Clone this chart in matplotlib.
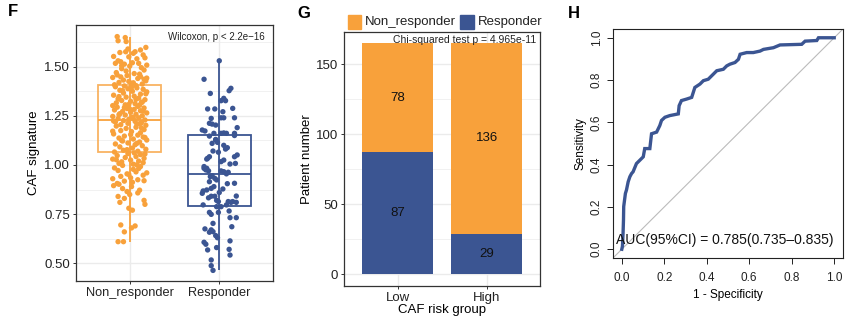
import matplotlib
matplotlib.use("Agg")
import matplotlib.pyplot as plt
from matplotlib.patches import Rectangle
import numpy as np

plt.rcParams['font.family'] = ['Liberation Sans', 'DejaVu Sans']

ORANGE = '#F8A13B'
BLUE = '#3B5592'

# ---------------- Panel F data ----------------
groups = ['Non_responder', 'Responder']
box_q1 = [1.065, 0.79]
box_med = [1.23, 0.955]
box_q3 = [1.405, 1.155]
box_lo = [0.61, 0.465]
box_hi = [1.65, 1.53]

nonresp_y = [1.653, 1.632, 1.648, 1.628, 1.598,
             1.585, 1.576, 1.576, 1.568, 1.552, 1.550, 1.525, 1.517, 1.513, 1.517, 1.508, 1.503, 1.560, 1.540, 1.530, 1.505, 1.590, 1.545, 1.520, 1.572,
             1.483, 1.490, 1.470, 1.465, 1.455, 1.450, 1.445, 1.440, 1.432, 1.428, 1.420, 1.415, 1.412, 1.408, 1.404, 1.478, 1.462, 1.448, 1.436, 1.425, 1.418, 1.495, 1.458, 1.442, 1.402,
             1.398, 1.392, 1.388, 1.385, 1.380, 1.375, 1.372, 1.366, 1.360, 1.355, 1.350, 1.345, 1.340, 1.336, 1.332, 1.328, 1.324, 1.320, 1.316, 1.312, 1.308, 1.304, 1.302, 1.395, 1.378, 1.362, 1.348, 1.334, 1.318, 1.306,
             1.298, 1.294, 1.290, 1.287, 1.283, 1.280, 1.276, 1.272, 1.268, 1.265, 1.261, 1.258, 1.254, 1.250, 1.247, 1.243, 1.240, 1.236, 1.232, 1.229, 1.226, 1.222, 1.219, 1.215, 1.212, 1.208, 1.205, 1.202, 1.292, 1.274, 1.256, 1.238, 1.224, 1.210, 1.285,
             1.198, 1.192, 1.186, 1.180, 1.175, 1.170, 1.164, 1.158, 1.152, 1.147, 1.142, 1.137, 1.132, 1.127, 1.122, 1.117, 1.112, 1.107, 1.103, 1.189, 1.172, 1.155, 1.140, 1.125, 1.110,
             1.098, 1.092, 1.086, 1.080, 1.075, 1.070, 1.066, 1.062, 1.058, 1.053, 1.048, 1.043, 1.038, 1.034, 1.030, 1.025, 1.020, 1.016, 1.012, 1.008, 1.004, 1.001, 1.078, 1.056, 1.027,
             0.998, 0.992, 0.985, 0.978, 0.972, 0.965, 0.960, 0.955, 0.948, 0.942, 0.935, 0.930, 0.925, 0.918, 0.912, 0.906, 0.902, 0.982, 0.952, 0.920,
             0.895, 0.890, 0.880, 0.872, 0.865, 0.858, 0.850, 0.840, 0.830, 0.820, 0.810, 0.800,
             0.780, 0.770, 0.695, 0.660, 0.680, 0.690, 0.610, 0.610]
nonresp_dx = [-0.14, -0.13, -0.05, -0.04, 0.18,
              0.12, 0.06, -0.045, 0.04, -0.18, -0.01, -0.10, -0.16, -0.06, 0.10, 0.19, 0.00, 0.15, 0.08, -0.13, -0.09, -0.02, 0.17, 0.03, -0.11,
              0.16, -0.09, -0.15, 0.05, -0.03, 0.12, -0.19, 0.09, -0.07, 0.18, -0.12, 0.02, 0.14, -0.17, 0.07, -0.04, 0.11, -0.10, 0.16, -0.01, 0.04, 0.13, -0.14, 0.19, -0.06,
              -0.16, 0.08, -0.02, 0.15, -0.11, 0.03, 0.19, -0.07, 0.12, -0.18, 0.05, -0.04, 0.10, -0.13, 0.17, -0.09, 0.01, 0.14, -0.15, 0.06, -0.01, 0.11, -0.19, 0.02, -0.08, 0.18, -0.12, 0.07, 0.13, -0.05,
              0.09, -0.14, 0.16, -0.03, 0.05, -0.17, 0.12, -0.08, 0.01, 0.19, -0.11, 0.07, -0.05, 0.14, -0.19, 0.03, 0.10, -0.13, -0.01, 0.17, -0.07, 0.06, -0.16, 0.13, -0.02, 0.08, -0.10, 0.18, -0.06, 0.15, -0.12, 0.04, -0.18, 0.11, 0.00,
              -0.15, 0.07, -0.04, 0.16, -0.10, 0.02, 0.12, -0.18, 0.09, -0.06, 0.15, -0.12, 0.04, 0.19, -0.08, 0.11, -0.02, -0.16, 0.06, 0.13, -0.19, 0.01, 0.17, -0.09, 0.08,
              0.14, -0.11, 0.03, 0.18, -0.07, 0.09, -0.17, 0.05, -0.02, 0.12, -0.14, 0.07, -0.05, 0.16, -0.19, 0.01, 0.10, -0.09, 0.15, -0.12, 0.04, 0.08, -0.03, 0.17, -0.15,
              -0.08, 0.12, -0.17, 0.04, -0.13, 0.07, 0.19, -0.03, 0.15, -0.10, 0.01, -0.19, 0.09, -0.06, 0.03, -0.14, -0.12, 0.10, -0.01, 0.16,
              -0.18, 0.02, -0.08, 0.11, -0.03, 0.09, 0.00, -0.13, -0.06, 0.16, -0.11, 0.17,
              -0.01, 0.03, -0.10, -0.06, 0.02, 0.06, -0.13, -0.07]

resp_y = [1.53, 1.436, 1.39, 1.378, 1.364, 1.327, 1.339, 1.327, 1.285, 1.285, 1.271, 1.288,
          1.237, 1.24, 1.24, 1.24, 1.212, 1.208, 1.203, 1.178, 1.173, 1.19, 1.161, 1.147, 1.161,
          1.161, 1.163, 1.161, 1.13, 1.127, 1.115, 1.15, 1.11, 1.10, 1.088, 1.081, 1.071,
          1.051, 1.042, 1.042, 1.034, 1.03, 1.025, 1.017, 1.008, 0.992, 0.983, 0.975, 0.983, 0.97,
          0.97, 0.966, 0.963, 0.941, 0.932, 0.915, 0.924, 0.89, 0.881, 0.873, 0.868, 0.856, 0.878,
          0.907, 0.842, 0.841, 0.833, 0.841, 0.82, 0.814, 0.814, 0.81, 0.814, 0.81, 0.797, 0.788,
          0.788, 0.797, 0.759, 0.749, 0.759, 0.766, 0.732, 0.732, 0.703, 0.675, 0.67, 0.661, 0.658,
          0.686, 0.641, 0.63, 0.607, 0.597, 0.614, 0.568, 0.58, 0.571, 0.542, 0.517, 0.488, 0.464,
          1.005, 0.955, 0.905, 1.065, 0.86, 0.945]
resp_dx = [0.0, -0.17, 0.13, 0.11, -0.10, 0.02, 0.05, 0.07, -0.13, -0.05, 0.04, 0.15,
           -0.09, 0.02, 0.05, 0.17, -0.11, -0.08, -0.04, -0.19, -0.16, 0.20, 0.17, -0.11, -0.06,
           0.02, 0.05, 0.08, -0.04, -0.04, -0.02, 0.17, -0.08, 0.05, 0.09, 0.07, -0.07,
           0.20, 0.17, -0.11, -0.13, -0.14, 0.05, 0.02, 0.18, -0.17, -0.14, -0.15, -0.17, -0.12,
           0.02, 0.05, 0.10, -0.10, -0.05, -0.11, -0.03, -0.06, -0.09, -0.14, -0.18, -0.19, 0.04,
           0.17, 0.19, -0.09, -0.12, -0.05, -0.03, -0.01, 0.10, 0.13, 0.15, 0.19, -0.18, -0.03,
           0.02, 0.08, -0.11, -0.09, -0.01, 0.11, 0.12, 0.19, -0.07, -0.16, -0.09, -0.07, -0.11,
           0.14, -0.04, -0.02, -0.17, -0.15, 0.12, -0.13, -0.03, 0.11, 0.12, -0.09, -0.09, -0.07,
           0.12, 0.08, 0.09, -0.01, 0.00, -0.08]

# ---------------- Panel G data ----------------
risk_groups = ['Low', 'High']
responder_n = [87, 29]
nonresponder_n = [78, 136]

# ---------------- Panel H data ----------------
roc_fpr = [0.0, 0.003, 0.006, 0.008, 0.009, 0.017, 0.022, 0.030, 0.038, 0.046, 0.053, 0.069, 0.085,
           0.101, 0.108, 0.132, 0.140, 0.164, 0.179, 0.187, 0.203, 0.226, 0.266, 0.270, 0.281, 0.305,
           0.329, 0.344, 0.368, 0.384, 0.407, 0.431, 0.447, 0.478, 0.494, 0.509, 0.533, 0.549, 0.557,
           0.588, 0.619, 0.651, 0.667, 0.714, 0.745, 0.847, 0.863, 0.918, 0.926, 1.0]
roc_tpr = [0.0, 0.014, 0.077, 0.139, 0.202, 0.264, 0.280, 0.319, 0.343, 0.358, 0.366, 0.405, 0.421,
           0.437, 0.476, 0.476, 0.546, 0.554, 0.585, 0.609, 0.624, 0.632, 0.640, 0.679, 0.703, 0.710,
           0.718, 0.765, 0.781, 0.797, 0.804, 0.828, 0.844, 0.851, 0.867, 0.875, 0.883, 0.898, 0.922,
           0.930, 0.930, 0.937, 0.945, 0.953, 0.966, 0.969, 0.984, 0.987, 1.0, 1.0]
auc_text = 'AUC(95%CI) = 0.785(0.735\u20130.835)'

W, H = 847, 322
fig = plt.figure(figsize=(W / 100, H / 100), dpi=100)

def frac(l, t, r, b):
    return [l / W, (H - b) / H, (r - l) / W, (b - t) / H]

EDGE = '#333333'
GRID = '#EBEBEB'

def gg_style(ax):
    for s in ax.spines.values():
        s.set_color(EDGE)
        s.set_linewidth(0.9)
    ax.tick_params(axis='both', colors=EDGE, length=2.5, width=0.7, pad=1.8,
                   labelsize=9.5, labelcolor='#222222')
    ax.set_axisbelow(True)

# ---------------- Panel F ----------------
axF = fig.add_axes(frac(76, 25, 273, 281))
gg_style(axF)
axF.set_xlim(0.4, 2.6)
axF.set_ylim(0.41, 1.712)
yt = [0.50, 0.75, 1.00, 1.25, 1.50]
axF.set_yticks(yt)
axF.set_yticklabels(['%.2f' % v for v in yt])
for v in yt:
    axF.axhline(v, color=GRID, lw=1.0, zorder=0)
for v in [0.625, 0.875, 1.125, 1.375, 1.625]:
    axF.axhline(v, color=GRID, lw=0.5, zorder=0)
for xpos in [1, 2]:
    axF.axvline(xpos, color=GRID, lw=1.0, zorder=0)
axF.set_xticks([1, 2])
axF.set_xticklabels(groups, fontsize=9.2)
axF.set_ylabel('CAF signature', fontsize=9.5, labelpad=3)
cols = [ORANGE, BLUE]
box_alpha = [0.8, 1.0]
for i in range(2):
    pos = i + 1
    axF.vlines(pos, box_lo[i], box_hi[i], color=cols[i], lw=1.3, zorder=2)
    stats = [dict(med=box_med[i], q1=box_q1[i], q3=box_q3[i], whislo=box_q1[i], whishi=box_q3[i], fliers=[])]
    bp = axF.bxp(stats, positions=[pos], widths=0.7, showcaps=False, showfliers=False,
                 patch_artist=True,
                 boxprops=dict(facecolor='none', edgecolor=cols[i], linewidth=1.3, alpha=box_alpha[i]),
                 medianprops=dict(color=cols[i], linewidth=1.3),
                 whiskerprops=dict(color=cols[i], linewidth=0),
                 manage_ticks=False, zorder=2)
axF.scatter([1 + d for d in nonresp_dx], nonresp_y, s=15, color=ORANGE, edgecolors='none', zorder=3)
axF.scatter([2 + d for d in resp_dx], resp_y, s=15, color=BLUE, edgecolors='none', zorder=3)
axF.text(0.959, 0.953, 'Wilcoxon, p < 2.2e\u221216', transform=axF.transAxes, ha='right', va='center', fontsize=7, color='#222222')

# ---------------- Panel G ----------------
axG = fig.add_axes(frac(344.3, 31.7, 540, 285.7))
gg_style(axG)
xg = [1, 2]
axG.set_xlim(0.4, 2.6)
axG.set_ylim(-8.25, 173.25)
for v in [0, 50, 100, 150]:
    axG.axhline(v, color=GRID, lw=1.0, zorder=0)
for v in [25, 75, 125]:
    axG.axhline(v, color=GRID, lw=0.5, zorder=0)
for v in xg:
    axG.axvline(v, color=GRID, lw=1.0, zorder=0)
axG.bar(xg, responder_n, width=0.8, color=BLUE, zorder=2)
axG.bar(xg, nonresponder_n, bottom=responder_n, width=0.8, color=ORANGE, zorder=2)
for i in range(2):
    axG.text(xg[i], responder_n[i] / 2, str(responder_n[i]), ha='center', va='center', fontsize=9.5, color='#111111', zorder=3)
    axG.text(xg[i], responder_n[i] + nonresponder_n[i] / 2, str(nonresponder_n[i]), ha='center', va='center', fontsize=9.5, color='#111111', zorder=3)
axG.set_yticks([0, 50, 100, 150])
axG.set_xticks(xg)
axG.set_xticklabels(risk_groups, fontsize=9.5)
axG.set_ylabel('Patient number', fontsize=9.5, labelpad=2)
axG.set_xlabel('CAF risk group', fontsize=9.5, labelpad=0)
axG.text(0.983, 0.968, 'Chi-squared test p = 4.965e-11', transform=axG.transAxes, ha='right', va='center', fontsize=7.5, color='#222222', zorder=4)
# legend
fig.patches.append(Rectangle((348.3 / W, (H - 29) / H), 12.7 / W, 14 / H, transform=fig.transFigure, color=ORANGE))
fig.text(364.7 / W, (H - 22) / H, 'Non_responder', ha='left', va='center', fontsize=9.5, color='#222222')
fig.patches.append(Rectangle((460 / W, (H - 29) / H), 14 / W, 14 / H, transform=fig.transFigure, color=BLUE))
fig.text(477.7 / W, (H - 22) / H, 'Responder', ha='left', va='center', fontsize=9.5, color='#222222')

# ---------------- Panel H ----------------
axH = fig.add_axes(frac(613.3, 29.3, 842.7, 257.7))
axH.set_xlim(-0.04, 1.04)
axH.set_ylim(-0.04, 1.04)
for s in axH.spines.values():
    s.set_color('#222222')
    s.set_linewidth(0.8)
ticks = [0.0, 0.2, 0.4, 0.6, 0.8, 1.0]
axH.set_xticks(ticks)
axH.set_yticks(ticks)
axH.set_xticklabels(['%.1f' % t for t in ticks], fontsize=8.5)
axH.set_yticklabels(['%.1f' % t for t in ticks], fontsize=8.5, rotation=90, va='center')
axH.tick_params(axis='both', length=4, width=0.7, colors='#222222')
axH.tick_params(axis='x', pad=6)
axH.axline((0, 0), (1, 1), color='#BBBBBB', lw=0.8, zorder=1)
axH.plot(roc_fpr, roc_tpr, color=BLUE, lw=2.4, zorder=2, solid_joinstyle='miter')
axH.set_xlabel('1 - Specificity', fontsize=8.5, labelpad=4)
axH.set_ylabel('Sensitivity', fontsize=8.5, labelpad=3)
axH.text(-0.028, 0.042, auc_text, ha='left', va='center', fontsize=10, color='#111111', zorder=3)

# panel labels
fig.text(8 / W, (H - 12) / H, 'F', fontsize=12, fontweight='bold', va='center', ha='left')
fig.text(297 / W, (H - 13) / H, 'G', fontsize=12, fontweight='bold', va='center', ha='left')
fig.text(568 / W, (H - 13) / H, 'H', fontsize=12, fontweight='bold', va='center', ha='left')

fig.savefig('out.png', dpi=100)
